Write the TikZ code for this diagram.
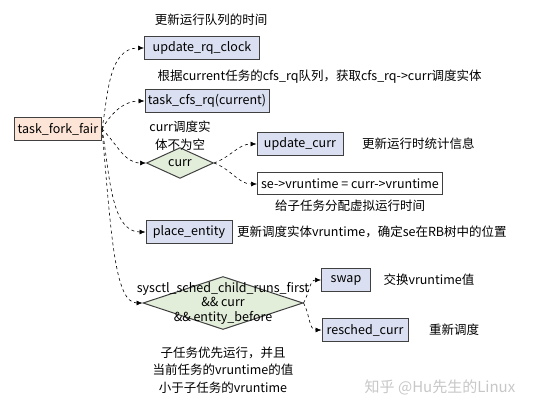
\documentclass[tikz,border=0pt]{standalone}
\usepackage{fontspec}
\setmainfont{Noto Sans CJK SC}
\usetikzlibrary{shapes.geometric, positioning, arrows.meta}

\definecolor{forkfill}{RGB}{252,229,214}
\definecolor{funcfill}{RGB}{218,224,241}
\definecolor{condfill}{RGB}{226,237,218}

\begin{document}
\begin{tikzpicture}[x=1pt, y=1pt, font=\fontsize{12.5}{14.5}\selectfont,
    box/.style={draw=black!75, line width=1pt, minimum height=23pt, inner sep=0pt},
    func/.style={box, fill=funcfill},
    cond/.style={diamond, draw=black!75, line width=1pt, fill=condfill, inner sep=0pt},
    call/.style={dashed, line width=0.6pt, -{Latex[length=6pt, width=5pt]}}]
    \useasboundingbox (0,0) rectangle (537,-411);

    \node[box, fill=forkfill, minimum width=87pt] (fork) at (58,-129) {task\_fork\_fair};
    \node[func, minimum width=115pt] (rqclock) at (202,-48) {update\_rq\_clock};
    \node[func, minimum width=124pt] (cfsrq) at (207,-101) {task\_cfs\_rq(current)};
    \node[cond, minimum width=67pt, minimum height=23pt] (curr) at (180,-163) {curr};
    \node[func, minimum width=86pt] (updcurr) at (300,-144) {update\_curr};
    \node[box, fill=white, minimum width=185pt, minimum height=22pt] (sevr) at (350,-184) {se->vruntime = curr->vruntime};
    \node[func, minimum width=86pt] (place) at (189,-232) {place\_entity};
    \node[cond, minimum width=160pt, minimum height=53pt] (cond) at (223,-303) {};
    \node[align=center] (condtxt) at (cond.center) {sysctl\_sched\_child\_runs\_first\\\&\& curr\\\&\& entity\_before};
    \node[func, minimum width=49pt] (swap) at (346,-280) {swap};
    \node[func, minimum width=86pt] (resched) at (365,-330) {resched\_curr};

    % notes
    \node (lclock) at (211,-20) {更新运行队列的时间};
    \node[anchor=west] (lcfs) at (154,-77) {根据current任务的cfs\_rq队列，获取cfs\_rq->curr调度实体};
    \node[align=center, font=\fontsize{12.5}{18}\selectfont] (lcurr) at (180,-136) {curr调度实\\体不为空};
    \node[right=15pt of updcurr] (lupd) {更新运行时统计信息};
    \node[below=1pt of sevr] (lsevr) {给子任务分配虚拟运行时间};
    \node[right=1pt of place] (lplace) {更新调度实体vruntime，确定se在RB树中的位置};
    \node[right=9pt of swap] (lswap) {交换vruntime值};
    \node[right=17pt of resched] (lresched) {重新调度};
    \node[align=center, font=\fontsize{12.5}{17.5}\selectfont] (lcond) at (223,-370) {子任务优先运行，并且\\当前任务的vruntime的值\\小于子任务的vruntime};
    \node[text=black!22, font=\fontsize{15}{17}\selectfont] (mark) at (440,-387) {知乎 @Hu先生的Linux};

    \draw[call] (fork.east) to[out=80, in=180] (rqclock.west);
    \draw[call] (fork.east) to[out=60, in=180] (cfsrq.west);
    \draw[call] (fork.east) to[out=-45, in=180] (curr.west);
    \draw[call] (fork.east) to[out=-80, in=180, in looseness=0.8] (place.west);
    \draw[call] (fork.east) to[out=-85, in=180, out looseness=1.5, in looseness=0.4] (cond.west);
    \draw[call] (curr.east) to[out=20, in=180] (updcurr.west);
    \draw[call] (curr.east) to[out=-20, in=180] (sevr.west);
    \draw[call] (cond.east) to[out=60, in=180] (swap.west);
    \draw[call] (cond.east) to[out=-60, in=180] (resched.west);
\end{tikzpicture}
\end{document}
